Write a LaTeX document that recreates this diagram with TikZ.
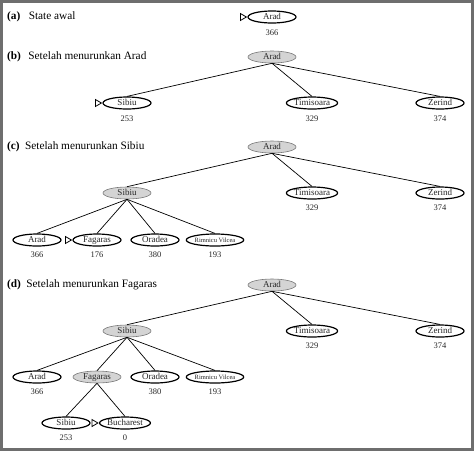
\documentclass[tikz,border=0pt]{standalone}
\usepackage{fontspec}
\setmainfont{Liberation Serif}
\usepackage{xcolor}
\definecolor{framegray}{RGB}{110,110,110}
\definecolor{expgray}{RGB}{212,212,212}
\definecolor{expline}{RGB}{120,120,120}
\usetikzlibrary{positioning,shapes.geometric}

\tikzset{
  city/.style={ellipse, draw=black, line width=1.2pt, fill=white,
    minimum width=48pt, minimum height=12pt, inner sep=0pt,
    text height=5.8pt, text depth=0.6pt,
    text=black!85, font=\fontsize{9}{10}\selectfont},
  expanded/.style={city, draw=expline, line width=0.6pt, fill=expgray},
  hcost/.style={inner sep=0pt, text=black!85, font=\fontsize{8.5}{9}\selectfont},
  tag/.style={anchor=west, inner sep=0pt, font=\fontsize{11.3}{13}\selectfont\bfseries},
  caption/.style={inner sep=0pt, font=\fontsize{11.3}{13}\selectfont},
  branch/.style={line width=0.7pt},
}
\newcommand{\frontier}[1]{%
  \draw[line width=0.8pt, fill=white] ([xshift=-1pt]#1.west) -- ++(-6,-3.5) -- ++(0,7) -- cycle;}

\begin{document}
\begin{tikzpicture}[x=1pt, y=-1pt]
  \useasboundingbox (0,0) rectangle (474,451);

  % (a) state awal
  \node[tag] (ta) at (7,17) {(a)};
  \node[caption, base right=8pt of ta] (ca) {State awal};
  \node[city] (a0) at (272,17) {Arad};
  \node[hcost, below=6pt of a0] (ha0) {366};
  \frontier{a0}

  % (b) setelah Arad
  \node[tag] (tb) at (7,57) {(b)};
  \node[caption, base right=7pt of tb] (cb) {Setelah menurunkan Arad};
  \node[expanded] (b0) at (272,57) {Arad};
  \node[city] (b1) at (127,103) {Sibiu};
  \node[city, minimum width=50pt] (b2) at (312,103) {Timisoara};
  \node[city] (b3) at (440,103) {Zerind};
  \node[hcost, below=6pt of b1] (hb1) {253};
  \node[hcost, below=6pt of b2] (hb2) {329};
  \node[hcost, below=6pt of b3] (hb3) {374};
  \foreach \c in {b1,b2,b3} \draw[branch] (b0.south) -- (\c.north);
  \frontier{b1}

  % (c) setelah Sibiu
  \node[tag] (tc) at (7,147) {(c)};
  \node[caption, base right=5pt of tc] (cc) {Setelah menurunkan Sibiu};
  \node[expanded] (c0) at (272,147) {Arad};
  \node[expanded] (c1) at (127,193) {Sibiu};
  \node[city, minimum width=50pt] (c2) at (312,193) {Timisoara};
  \node[city] (c3) at (440,193) {Zerind};
  \node[city] (c11) at (37,240) {Arad};
  \node[city] (c12) at (97,240) {Fagaras};
  \node[city] (c13) at (155,240) {Oradea};
  \node[city, font=\fontsize{6.5}{7}\selectfont] (c14) at (215,240) {Rimnicu Vilcea};
  \node[hcost, below=5.5pt of c2] (hc2) {329};
  \node[hcost, below=5.5pt of c3] (hc3) {374};
  \node[hcost, below=5.5pt of c11] (hc11) {366};
  \node[hcost, below=5.5pt of c12] (hc12) {176};
  \node[hcost, below=5.5pt of c13] (hc13) {380};
  \node[hcost, below=5.5pt of c14] (hc14) {193};
  \foreach \c in {c1,c2,c3} \draw[branch] (c0.south) -- (\c.north);
  \foreach \c in {c11,c12,c13,c14} \draw[branch] (c1.south) -- (\c.north);
  \frontier{c12}

  % (d) setelah Fagaras
  \node[tag] (td) at (7,285) {(d)};
  \node[caption, base right=5pt of td] (cd) {Setelah menurunkan Fagaras};
  \node[expanded] (d0) at (272,285) {Arad};
  \node[expanded] (d1) at (127,331) {Sibiu};
  \node[city, minimum width=50pt] (d2) at (312,331) {Timisoara};
  \node[city] (d3) at (440,331) {Zerind};
  \node[city] (d11) at (37,377) {Arad};
  \node[expanded] (d12) at (97,377) {Fagaras};
  \node[city] (d13) at (155,377) {Oradea};
  \node[city, font=\fontsize{6.5}{7}\selectfont] (d14) at (215,377) {Rimnicu Vilcea};
  \node[city] (d121) at (66,423) {Sibiu};
  \node[city, minimum width=50pt] (d122) at (125,423) {Bucharest};
  \node[hcost, below=5.5pt of d2] (hd2) {329};
  \node[hcost, below=5.5pt of d3] (hd3) {374};
  \node[hcost, below=5.5pt of d11] (hd11) {366};
  \node[hcost, below=5.5pt of d13] (hd13) {380};
  \node[hcost, below=5.5pt of d14] (hd14) {193};
  \node[hcost, below=5.5pt of d121] (hd121) {253};
  \node[hcost, below=5.5pt of d122] (hd122) {0};
  \foreach \c in {d1,d2,d3} \draw[branch] (d0.south) -- (\c.north);
  \foreach \c in {d11,d12,d13,d14} \draw[branch] (d1.south) -- (\c.north);
  \foreach \c in {d121,d122} \draw[branch] (d12.south) -- (\c.north);
  \frontier{d122}

  % bingkai
  \draw[framegray, line width=3pt] (1.5,1.5) rectangle (472.5,449.5);
\end{tikzpicture}
\end{document}
